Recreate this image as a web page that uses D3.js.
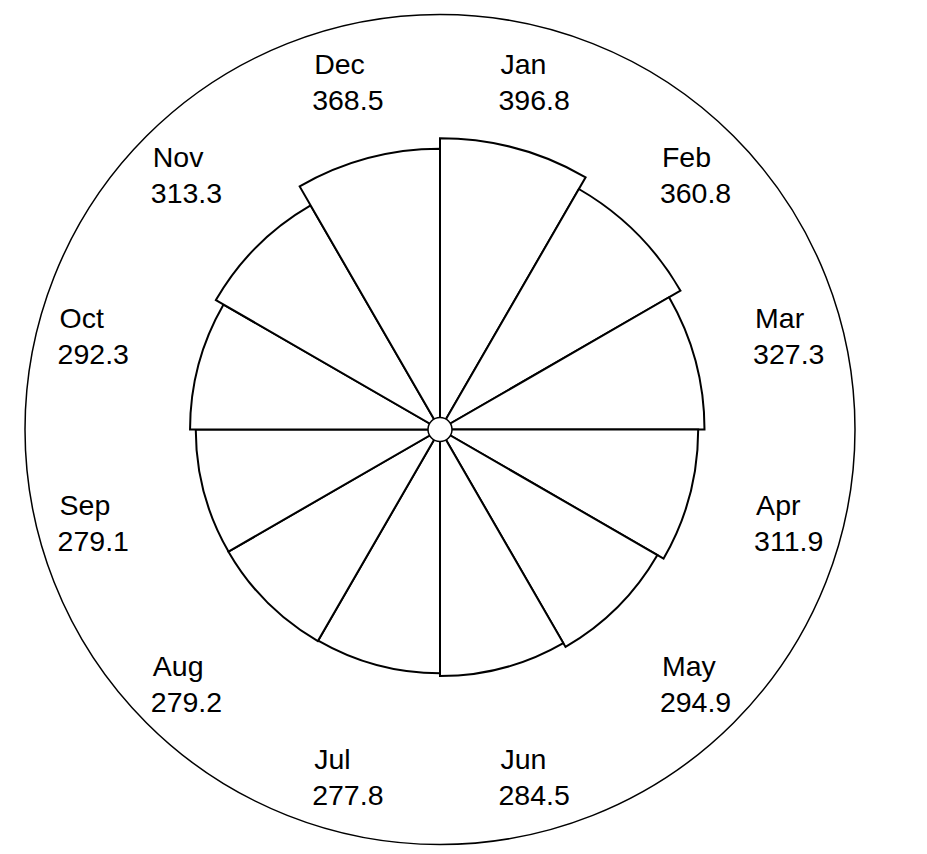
<!DOCTYPE html>
<html>
<head>
<meta charset="utf-8">
<script src="https://cdn.jsdelivr.net/npm/d3@7"></script>
<style>
  body { margin: 0; background: #fff; }
  text { font-family: "Liberation Sans", Arial, sans-serif; font-size: 28.5px; fill: #000; }
</style>
</head>
<body>
<div id="chart"></div>
<script>
const months = ['Jan','Feb','Mar','Apr','May','Jun','Jul','Aug','Sep','Oct','Nov','Dec']
const values = [396.8, 360.8, 327.3, 311.9, 294.9, 284.5, 277.8, 279.2, 279.1, 292.3, 313.3, 368.5]

const W = 927, H = 854
const cx = 440, cy = 429.5
const outerR = 415, labelR = 360, hubR = 12

const svg = d3.select('#chart').append('svg')
  .attr('width', W)
  .attr('height', H)
  .attr('viewBox', [0, 0, W, H])

// area-proportional radius
const r = d3.scaleSqrt()
  .domain([0, d3.max(values)])
  .range([0, 14.62 * Math.sqrt(d3.max(values))])

const angle = d3.scaleBand()
  .domain(months)
  .range([0, 2 * Math.PI])
  .paddingInner(0)

const g = svg.append('g').attr('transform', `translate(${cx},${cy})`)

g.append('circle')
  .attr('r', outerR)
  .attr('fill', 'none')
  .attr('stroke', '#000')
  .attr('stroke-width', 1.5)

const arc = d3.arc()
  .innerRadius(0)
  .outerRadius((d, i) => r(d))
  .startAngle((d, i) => angle(months[i]))
  .endAngle((d, i) => angle(months[i]) + angle.bandwidth())

g.selectAll('path.sector')
  .data(values)
  .join('path')
    .attr('class', 'sector')
    .attr('d', arc)
    .attr('fill', '#fff')
    .attr('stroke', '#000')
    .attr('stroke-width', 2)
    .attr('stroke-linejoin', 'miter')

g.append('circle')
  .attr('r', hubR)
  .attr('fill', '#fff')
  .attr('stroke', '#000')
  .attr('stroke-width', 1.5)

const labels = g.selectAll('g.label')
  .data(months)
  .join('g')
    .attr('class', 'label')
    .attr('transform', m => {
      const a = angle(m) + angle.bandwidth() / 2
      return `translate(${labelR * Math.sin(a)},${-labelR * Math.cos(a)})`
    })

labels.append('text')
  .attr('class', 'val')
  .attr('y', 28)
  .text((m, i) => values[i].toFixed(1))

labels.append('text')
  .attr('class', 'name')
  .attr('y', -8)
  .text(m => m)

// left-align both lines, block centred on the value line
labels.each(function () {
  const sel = d3.select(this)
  const w = sel.select('.val').node().getComputedTextLength()
  sel.select('.val').attr('x', -w / 2 + 1)
  sel.select('.name').attr('x', -w / 2 + 3)
})
</script>
</body>
</html>
